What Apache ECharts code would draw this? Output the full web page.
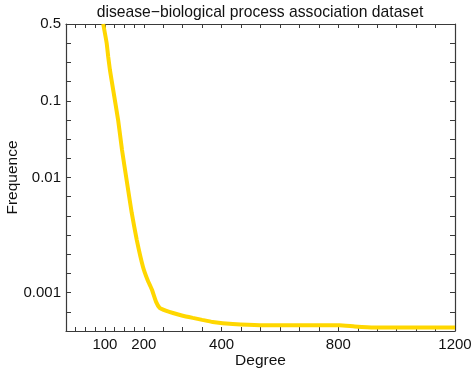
<!DOCTYPE html>
<html><head><meta charset="utf-8">
<script src="https://cdn.jsdelivr.net/npm/echarts@6/dist/echarts.min.js"></script>
<style>html,body{margin:0;padding:0;background:#fff}#c{width:474px;height:372px}</style>
</head><body><div id="c"></div>
<script>
// Values (Degree, Frequence)
const degree = [95.7, 104.5, 108.6, 113, 121.4, 134, 144, 157, 169, 182, 198, 210, 221, 231, 241, 258, 275, 300, 326, 350, 377, 438, 531, 660, 804, 856, 923, 1050, 1200];
const freq = [0.5, 0.336, 0.25, 0.19, 0.125, 0.056, 0.0228, 0.00895, 0.00492, 0.00286, 0.00167, 0.00128, 0.00106, 0.00084, 0.000736, 0.000695, 0.000665, 0.00063, 0.000603, 0.00058, 0.000556, 0.000534, 0.000522, 0.000522, 0.000522, 0.000508, 0.000497, 0.000497, 0.000497];
// Axis tick labels
const xTickLabels = [100, 200, 400, 800, 1200];
const yTickLabels = ['0.5', '0.1', '0.01', '0.001'];
const yTickValues = [0.5, 0.1, 0.01, 0.001];
const titleText = 'disease\u2212biological process association dataset';
const xName = 'Degree';
const yName = 'Frequence';

// The reference axes are piecewise scales: map values to axis units
function xScale(d) { return d <= 400 ? d / 25 : 16 + (d - 400) * 0.03; }
function yScale(f) {
  const L = Math.log10(f);
  if (L <= -2) return 2 + (L + 3) * 6;
  if (L <= -1) return 8 + (L + 2) * 4;
  return 12 + (L + 1) * 4 / Math.log10(5);
}
const xLabelPos = xTickLabels.map(xScale);
const yLabelPos = yTickValues.map(yScale);
const xTickPos = [];
for (let i = 1; i <= 8; i++) xTickPos.push(i);
for (let i = 10; i < 40; i += 2) xTickPos.push(i);
const yTickPos = [];
for (let i = 1; i < 16; i++) yTickPos.push(i);

function fmtX(v) { const i = xLabelPos.findIndex(p => Math.abs(p - v) < 1e-6); return i >= 0 ? String(xTickLabels[i]) : ''; }
function fmtY(v) { const i = yLabelPos.findIndex(p => Math.abs(p - v) < 1e-6); return i >= 0 ? yTickLabels[i] : ''; }

const data = degree.map((d, i) => [xScale(d), yScale(freq[i])]);
const font = '"Liberation Sans", Arial, sans-serif';
const axisColor = '#3a3a3a';

function xAxisDef(pos, show) {
  return {
    type: 'value', position: pos, min: 0, max: 40,
    axisLine: { show: true, onZero: false, lineStyle: { color: axisColor, width: 1.2 } },
    axisTick: { show: true, inside: true, length: 4, customValues: xTickPos, lineStyle: { color: axisColor } },
    axisLabel: { show: show, customValues: xLabelPos, formatter: fmtX, color: '#111', fontSize: 15, fontFamily: font, margin: 6 },
    splitLine: { show: false },
    name: show ? xName : '', nameLocation: 'middle', nameGap: 22, nameMoveOverlap: false,
    nameTextStyle: { color: '#111', fontSize: 15.5, fontFamily: font }
  };
}
function yAxisDef(pos, show) {
  return {
    type: 'value', position: pos, min: 0, max: 16,
    axisLine: { show: true, onZero: false, lineStyle: { color: axisColor, width: 1.2 } },
    axisTick: { show: true, inside: true, length: 5, customValues: yTickPos, lineStyle: { color: axisColor } },
    axisLabel: { show: show, customValues: yLabelPos, formatter: fmtY, color: '#111', fontSize: 15, fontFamily: font, margin: 5 },
    splitLine: { show: false },
    name: show ? yName : '', nameLocation: 'middle', nameGap: 45, nameMoveOverlap: false,
    nameTextStyle: { color: '#111', fontSize: 15.5, fontFamily: font }
  };
}

const chart = echarts.init(document.getElementById('c'), null, { renderer: 'canvas' });
chart.setOption({
  animation: false,
  backgroundColor: '#fff',
  title: { text: titleText, left: 255, top: 0, textAlign: 'center',
    textStyle: { color: '#111', fontSize: 15.7, fontWeight: 'normal', fontFamily: font } },
  grid: { left: 66, right: 19, top: 24, bottom: 41, containLabel: false, outerBoundsMode: 'none' },
  xAxis: [xAxisDef('bottom', true), xAxisDef('top', false)],
  yAxis: [yAxisDef('left', true), yAxisDef('right', false)],
  series: [{
    type: 'line', data: data, xAxisIndex: 0, yAxisIndex: 0,
    showSymbol: false, smooth: 0.12,
    lineStyle: { color: '#FFD700', width: 4 }
  }]
});
</script></body></html>
